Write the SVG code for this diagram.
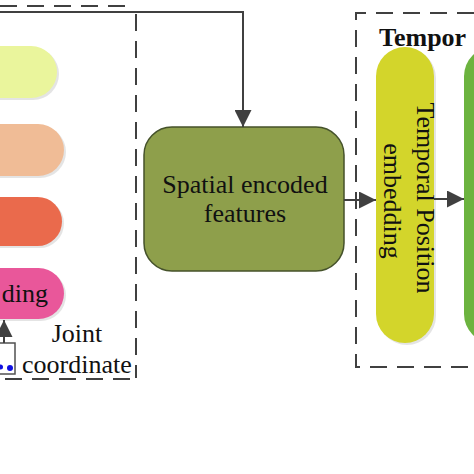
<svg xmlns="http://www.w3.org/2000/svg" width="474" height="474" viewBox="0 0 474 474">
<defs>
<style>
.t{font-family:"Liberation Serif","Times New Roman",serif;font-size:26px;fill:#111}
.dash{fill:none;stroke:#404040;stroke-width:2;stroke-dasharray:17 10}
.ln{fill:none;stroke:#404040;stroke-width:2}
.sh{fill:#d8d8d8;opacity:0.7}
</style>
<marker id="ah2" viewBox="0 0 10 10" refX="10" refY="5" markerWidth="17" markerHeight="17" markerUnits="userSpaceOnUse" orient="auto"><path d="M0,0 L10,5 L0,10 z" fill="#404040"/></marker>
</defs>
<rect width="474" height="474" fill="#fff"/>

<g id="spatial-group">
<path class="dash" d="M0,6 H130"/>
<path class="dash" d="M136,14 V378"/>
<path class="dash" d="M5,379 H136"/>
</g>

<g id="temporal-group">
<path class="dash" d="M474,13 H356 V367 H474"/>
<text class="t" x="379" y="46" font-weight="bold" font-size="28">Tempor</text>
</g>

<g id="pill1"><rect class="sh" x="-60" y="48" width="119" height="52" rx="26"/><rect x="-60" y="46" width="117" height="52" rx="26" fill="#eaf59c"/></g>
<g id="pill2"><rect class="sh" x="-60" y="126" width="126" height="52" rx="26"/><rect x="-60" y="124" width="124" height="52" rx="26" fill="#f0bc96"/></g>
<g id="pill3"><rect class="sh" x="-60" y="199" width="124" height="49" rx="24.5"/><rect x="-60" y="197" width="122" height="49" rx="24.5" fill="#ea6a4c"/></g>
<g id="pill4"><rect class="sh" x="-60" y="270" width="126" height="51" rx="25.5"/><rect x="-60" y="268" width="124" height="51" rx="25.5" fill="#e9579a"/><text class="t" x="48" y="302" text-anchor="end" font-size="27">ding</text></g>

<g id="joint">
<rect x="-1" y="343" width="16" height="31" fill="#fff" stroke="#505050" stroke-width="1.5"/>
<circle cx="10" cy="368" r="3" fill="#1010e0"/>
<circle cx="0.5" cy="367" r="2.5" fill="#1010e0"/>
<text class="t" x="77" y="342" text-anchor="middle">Joint</text>
<text class="t" x="22" y="373">coordinate</text>
</g>

<g id="spatial-encoded">
<rect x="144" y="127" width="200" height="144" rx="28" fill="#8e9f4b" stroke="#45522a" stroke-width="1.5"/>
<text class="t" font-size="27" x="245" y="193" text-anchor="middle">Spatial encoded</text>
<text class="t" font-size="27" x="245" y="222" text-anchor="middle">features</text>
</g>

<g id="temporal-pos">
<rect class="sh" x="378" y="49" width="58" height="296" rx="29"/>
<rect x="376" y="47" width="58" height="296" rx="29" fill="#d3d52b"/>
<text class="t" font-size="27.5" transform="translate(417,198) rotate(90)" text-anchor="middle">Temporal Position</text>
<text class="t" font-size="27" transform="translate(384,201) rotate(90)" text-anchor="middle">embedding</text>
</g>

<g id="green">
<rect class="sh" x="466" y="49" width="58" height="296" rx="29"/>
<rect x="464" y="47" width="58" height="296" rx="29" fill="#6cb33f"/>
</g>

<g id="connectors">
<path class="ln" d="M0,12 H243 V127" marker-end="url(#ah2)"/>
<path class="ln" d="M344,200 H376" marker-end="url(#ah2)"/>
<path class="ln" d="M434,199 H464" marker-end="url(#ah2)"/>
<path class="ln" d="M4,343 V320" marker-end="url(#ah2)"/>
</g>
</svg>
